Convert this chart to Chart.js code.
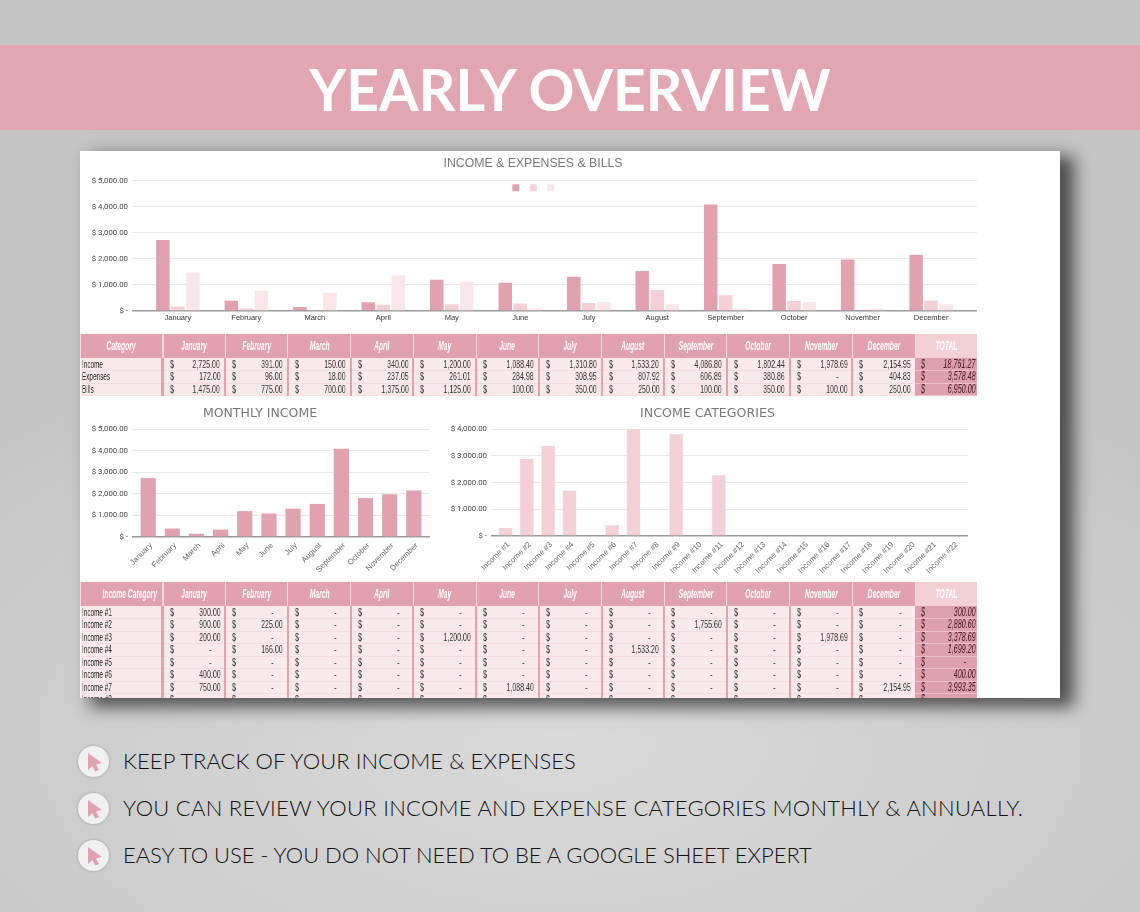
<!DOCTYPE html>
<html>
<head>
<meta charset="utf-8">
<title>Yearly Overview</title>
<script src="https://cdn.jsdelivr.net/npm/chart.js@4"></script>
<style>
html, body { margin: 0; padding: 0; }
body { position: relative; width: 1140px; height: 912px; overflow: hidden; background: radial-gradient(ellipse 800px 420px at 560px 740px, #dad9d9 0%, #cfcecf 60%, #c6c5c6 100%); font-family: Lato, sans-serif; }
#banner { position: absolute; left: 0; top: 45px; width: 1140px; height: 85px; background: #e2a5b2; color: #fff; font: 700 57px/89px Lato, sans-serif; letter-spacing: 0.1px; text-align: center; }
#panel { position: absolute; left: 80px; top: 151px; width: 980px; height: 547px; background: #fff; box-shadow: 12px 7px 16px 2px rgba(0,0,0,.62); overflow: hidden; }
canvas { position: absolute; }
table { position: absolute; left: 0; width: 897px; table-layout: fixed; border-collapse: collapse; font: 11px/11px "Liberation Sans", sans-serif; color: #333; }
th { height: 24px; padding: 0; background: #e2a1ae; color: #fff; font-style: italic; font-weight: 700; font-size: 12px; white-space: nowrap; overflow: hidden; border-left: 1px solid #f6dbe0; }
th:nth-child(2) { border-left-width: 2px; }
th.tot { background: #f3cfd6; }
th b { display: inline-block; transform: scaleX(.56); will-change: transform; }
td { height: 12.5px; line-height: 11px; padding: 0 4px 0 6px; background: #f9e9eb; border-left: 2px solid #e2a1ae; border-bottom: 1px solid #f5dce0; white-space: nowrap; overflow: hidden; text-align: right; box-sizing: border-box; }
td.name { text-align: left; padding-left: 1px; border-left: 0; color: #222; }
td:nth-child(2) { border-left-width: 3px; }
td.tot { background: #dfa0ae; color: #4a1a28; font-style: italic; font-size: 12px; padding-right: 2px; border-left: 0; border-bottom: 1px solid #eebfc8; }
td i { display: inline-block; font-style: inherit; margin-left: -20px; transform: scaleX(.64); transform-origin: right center; will-change: transform; }
td.tot i { transform: scaleX(.6); }
td.name i { margin-left: 0; transform: scaleX(.58); transform-origin: left center; }
td i.d { float: left; margin-left: 0; transform-origin: left center; }
td i.dash { margin-right: 9px; }
.bullet { position: absolute; left: 78px; width: 31px; height: 31px; border-radius: 50%; background: #f1f0f1; box-shadow: 0 0 3px rgba(0,0,0,.25); }
.bullet svg { position: absolute; left: 9px; top: 6px; }
.line { position: absolute; left: 123px; font: 300 22px/30px Lato, sans-serif; color: #111; white-space: nowrap; }
</style>
</head>
<body>
<div id="banner">YEARLY OVERVIEW</div>
<div id="panel">
	<canvas id="mainChart" width="906" height="180" style="left:0;top:0"></canvas>
	<table id="mainTable" style="top:183px"></table>
	<canvas id="monthChart" width="360" height="180" style="left:0;top:249px"></canvas>
	<canvas id="catChart" width="521" height="180" style="left:367px;top:249px"></canvas>
	<table id="catTable" style="top:431px"></table>
</div>
<div class="bullet" style="top:746px"><svg width="16" height="20" viewBox="0 0 16 20"><path d="M1 1 L15 11 L9 12.5 L12 18 L8 19.5 L5.5 14 L1 18 Z" fill="#e2a1ae"/></svg></div>
<div class="line" style="top:746px;letter-spacing:.06px">KEEP TRACK OF YOUR INCOME &amp; EXPENSES</div>
<div class="bullet" style="top:793px"><svg width="16" height="20" viewBox="0 0 16 20"><path d="M1 1 L15 11 L9 12.5 L12 18 L8 19.5 L5.5 14 L1 18 Z" fill="#e2a1ae"/></svg></div>
<div class="line" style="top:793px;letter-spacing:.27px">YOU CAN REVIEW YOUR INCOME AND EXPENSE CATEGORIES MONTHLY &amp; ANNUALLY.</div>
<div class="bullet" style="top:840px"><svg width="16" height="20" viewBox="0 0 16 20"><path d="M1 1 L15 11 L9 12.5 L12 18 L8 19.5 L5.5 14 L1 18 Z" fill="#e2a1ae"/></svg></div>
<div class="line" style="top:840px;letter-spacing:-.05px">EASY TO USE - YOU DO NOT NEED TO BE A GOOGLE SHEET EXPERT</div>

<script>
// chart data
const months = ["January", "February", "March", "April", "May", "June", "July", "August", "September", "October", "November", "December"];
const income = [2725, 391, 150, 340, 1200, 1088.4, 1310.8, 1533.2, 4086.8, 1802.44, 1978.69, 2154.95];
const expenses = [172, 96, 18, 237.05, 261.01, 284.98, 308.95, 807.92, 606.89, 380.86, 0, 404.83];
const bills = [1475, 775, 700, 1375, 1125, 100, 350, 250, 100, 350, 100, 250];
const totals = [18761.27, 3578.48, 6950];
const incomeNames = ["Income #1", "Income #2", "Income #3", "Income #4", "Income #5", "Income #6", "Income #7", "Income #8", "Income #9", "Income #10", "Income #11", "Income #12", "Income #13", "Income #14", "Income #15", "Income #16", "Income #17", "Income #18", "Income #19", "Income #20", "Income #21", "Income #22"];
const incomeTotals = [300, 2880.6, 3378.69, 1699.2, 0, 400, 3993.35, 0, 3812, 0, 2276, 0, 0, 0, 0, 0, 0, 0, 0, 0, 0, 0];

// income category table rows
const income1 = [300, 0, 0, 0, 0, 0, 0, 0, 0, 0, 0, 0];
const income2 = [900, 225, 0, 0, 0, 0, 0, 0, 1755.6, 0, 0, 0];
const income3 = [200, 0, 0, 0, 1200, 0, 0, 0, 0, 0, 1978.69, 0];
const income4 = [0, 166, 0, 0, 0, 0, 0, 1533.2, 0, 0, 0, 0];
const income5 = [0, 0, 0, 0, 0, 0, 0, 0, 0, 0, 0, 0];
const income6 = [400, 0, 0, 0, 0, 0, 0, 0, 0, 0, 0, 0];
const income7 = [750, 0, 0, 0, 0, 1088.4, 0, 0, 0, 0, 0, 2154.95];
const income8 = [0, 0, 0, 0, 0, 0, 0, 0, 0, 0, 0, 0];

const PINK = "#e2a1ae";
const PINK2 = "#f3cfd6";
const PINK3 = "#f9e6e8";

function money(v) {
	return v.toLocaleString("en-US", { minimumFractionDigits: 2, maximumFractionDigits: 2 });
}

// x axis is linear so the bars can sit inset from the ends of the grid lines
function points(values) {
	return values.map((v, i) => ({ x: i, y: v }));
}

function barChart(id, labels, datasets, o) {
	// title and legend are centred on the canvas, not on the plot
	const nudge = {
		id: "nudge",
		afterLayout(chart) {
			chart.titleBlock.left += o.titleShift;
			chart.titleBlock.right += o.titleShift;
			if (o.legend) {
				chart.legend.left += o.titleShift + 3;
				chart.legend.right += o.titleShift + 3;
				chart.legend.top += 20.5;
				chart.legend.bottom += 20.5;
			}
		}
	};
	return new Chart(document.getElementById(id), {
		type: "bar",
		data: { datasets: datasets },
		plugins: [nudge],
		options: {
			responsive: false,
			animation: false,
			layout: { padding: { right: o.right } },
			datasets: { bar: { categoryPercentage: o.cat, barPercentage: o.bar } },
			plugins: {
				title: {
					display: true,
					text: o.title,
					color: "#777",
					font: o.titleFont,
					padding: o.titlePad
				},
				legend: {
					display: !!o.legend,
					position: "top",
					labels: {
						boxWidth: 7,
						boxHeight: 7,
						padding: 5,
						font: { size: 7 },
						generateLabels: (chart) => chart.data.datasets.map((d, i) => ({
							text: " ",
							fillStyle: d.backgroundColor,
							strokeStyle: d.backgroundColor,
							lineWidth: 0,
							datasetIndex: i
						}))
					}
				},
				tooltip: { enabled: false }
			},
			scales: {
				x: {
					type: "linear",
					offset: false,
					min: -o.inset,
					max: labels.length - 1 + o.inset,
					afterFit: (s) => { s.height = o.xHeight; },
					grid: { display: false, drawTicks: false },
					border: { display: false },
					ticks: {
						stepSize: 1,
						includeBounds: false,
						autoSkip: false,
						minRotation: o.rotate,
						maxRotation: o.rotate,
						padding: o.tickPad,
						labelOffset: o.rotate ? 3 : 0,
						color: o.rotate ? "#666" : "#333",
						font: { family: "Liberation Sans", size: o.rotate ? 7.8 : 7.5 },
						callback: (v) => labels[v]
					}
				},
				y: {
					min: 0,
					max: o.max,
					afterFit: (s) => { s.width = o.yWidth; },
					border: { display: false },
					grid: {
						drawTicks: false,
						color: (c) => c.tick.value === 0 ? "#999" : "#e8e8e8",
						lineWidth: (c) => c.tick.value === 0 ? 1.5 : 1
					},
					ticks: {
						stepSize: 1000,
						padding: 4,
						color: "#444",
						font: { family: "Roboto", size: 7.8 },
						callback: (v) => v === 0 ? "$ -" : "$ " + money(v)
					}
				}
			}
		}
	});
}

barChart("mainChart", months, [
	{ label: "Income", data: points(income), backgroundColor: PINK },
	{ label: "Expenses", data: points(expenses), backgroundColor: PINK2 },
	{ label: "Bills", data: points(bills), backgroundColor: PINK3 }
], {
	title: "INCOME & EXPENSES & BILLS",
	titleFont: { family: "Liberation Sans", size: 12.3, weight: "normal" },
	titlePad: { top: 5, bottom: -12 },
	titleShift: 4.5, legend: true,
	max: 5000, inset: 0.67, cat: 0.6575, bar: 0.9, right: 9, yWidth: 52, xHeight: 20, rotate: 0, tickPad: 2
});

barChart("monthChart", months, [
	{ label: "Income", data: points(income), backgroundColor: PINK }
], {
	title: "MONTHLY INCOME",
	titleFont: { family: "DejaVu Sans", size: 12.5, weight: "normal" },
	titlePad: { top: 6, bottom: 8 },
	titleShift: 5,
	max: 5000, inset: 0.67, cat: 0.63, bar: 1, right: 10, yWidth: 52, xHeight: 43, rotate: 45, tickPad: 4
});

barChart("catChart", incomeNames, [
	{ label: "Income", data: points(incomeTotals), backgroundColor: PINK2 }
], {
	title: "INCOME CATEGORIES",
	titleFont: { family: "DejaVu Sans", size: 12.6, weight: "normal" },
	titlePad: { top: 6, bottom: 8 },
	titleShift: 0,
	max: 4000, inset: 0.68, cat: 0.625, bar: 1, right: 0, yWidth: 44, xHeight: 44, rotate: 45, tickPad: 4
});

// tables
function cell(v) {
	const text = v === 0 ? '<i class="dash">-</i>' : "<i>" + money(v) + "</i>";
	return '<i class="d">$</i>' + text;
}

function buildTable(id, firstHead, names, rows, rowTotals) {
	let html = '<colgroup><col style="width:82px">' + months.map(() => '<col style="width:62.73px">').join("") + '<col style="width:62.24px"></colgroup>';
	html += "<tr><th><b>" + firstHead + "</b></th>" + months.map((m) => "<th><b>" + m + "</b></th>").join("") + '<th class="tot"><b>TOTAL</b></th></tr>';
	rows.forEach((row, r) => {
		html += '<tr><td class="name"><i>' + names[r] + "</i></td>";
		row.forEach((v) => {
			html += "<td>" + cell(v) + "</td>";
		});
		html += '<td class="tot">' + cell(rowTotals[r]) + "</td></tr>";
	});
	document.getElementById(id).innerHTML = html;
}

buildTable("mainTable", "Category", ["Income", "Expenses", "Bills"], [income, expenses, bills], totals);
buildTable("catTable", "Income Category", incomeNames.slice(0, 8),
	[income1, income2, income3, income4, income5, income6, income7, income8],
	incomeTotals.slice(0, 8));
</script>
</body>
</html>
